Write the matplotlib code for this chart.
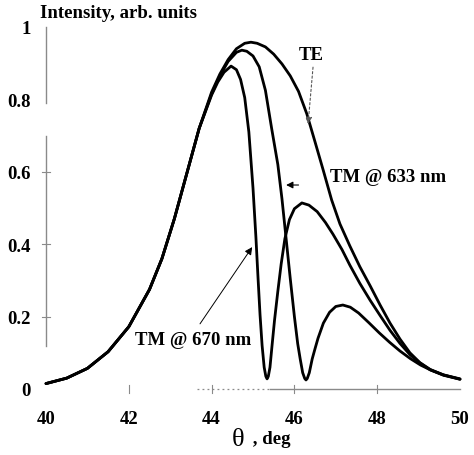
import matplotlib
matplotlib.use("Agg")
import matplotlib.pyplot as plt

# ---- data ----
te_x = [40.0, 40.5, 41.0, 41.5, 42.0, 42.5, 42.8, 43.1, 43.4, 43.7, 44.0, 44.2, 44.4, 44.6,
        44.8, 44.95, 45.1, 45.3, 45.5, 45.7, 45.9, 46.1, 46.3, 46.5, 46.7, 46.9, 47.1,
        47.34, 47.58, 47.83, 48.07, 48.31, 48.55, 48.79, 49.03, 49.28, 49.6, 50.0]
te_y = [0.015, 0.030, 0.057, 0.103, 0.172, 0.275, 0.36, 0.47, 0.595, 0.72, 0.82, 0.87, 0.91, 0.94,
        0.955, 0.958, 0.955, 0.945, 0.925, 0.898, 0.865, 0.822, 0.76, 0.682, 0.603, 0.522, 0.456,
        0.395, 0.338, 0.285, 0.232, 0.182, 0.138, 0.100, 0.073, 0.054, 0.039, 0.028]

tm633_x = [40.0, 40.5, 41.0, 41.5, 42.0, 42.5, 42.8, 43.1, 43.4, 43.7, 44.0, 44.2, 44.4, 44.6,
           44.73, 44.85, 45.0, 45.15, 45.3, 45.45, 45.6, 45.7, 45.8, 45.9, 46.0, 46.08, 46.14,
           46.2, 46.25, 46.28, 46.31, 46.36, 46.43, 46.5, 46.57, 46.7, 46.85, 47.0, 47.17,
           47.35, 47.55, 47.8, 48.05, 48.3, 48.55, 48.8, 49.05, 49.3, 49.6, 50.0]
tm633_y = [0.015, 0.030, 0.057, 0.103, 0.172, 0.275, 0.36, 0.47, 0.595, 0.72, 0.815, 0.865, 0.905, 0.93,
           0.936, 0.933, 0.92, 0.89, 0.825, 0.72, 0.62, 0.525, 0.415, 0.305, 0.20, 0.125, 0.083,
           0.045, 0.029, 0.025, 0.029, 0.045, 0.083, 0.112, 0.14, 0.182, 0.212, 0.228, 0.232,
           0.226, 0.21, 0.183, 0.155, 0.129, 0.105, 0.084, 0.066, 0.052, 0.039, 0.027]

tm670_x = [40.0, 40.5, 41.0, 41.5, 42.0, 42.5, 42.8, 43.1, 43.4, 43.7, 44.0, 44.15, 44.3, 44.47,
           44.6, 44.7, 44.8, 44.9, 45.0, 45.07, 45.12, 45.17, 45.22, 45.27, 45.31, 45.34, 45.37,
           45.41, 45.46, 45.52, 45.6, 45.68, 45.77, 45.88, 46.0, 46.18, 46.35, 46.55, 46.75,
           46.93, 47.15, 47.34, 47.58, 47.83, 48.07, 48.31, 48.55, 48.79, 49.03, 49.28, 49.6, 50.0]
tm670_y = [0.015, 0.030, 0.057, 0.103, 0.172, 0.275, 0.36, 0.47, 0.595, 0.72, 0.812, 0.848, 0.875, 0.892,
           0.882, 0.855, 0.805, 0.71, 0.555, 0.42, 0.31, 0.205, 0.12, 0.06, 0.035, 0.028, 0.035,
           0.06, 0.12, 0.19, 0.27, 0.345, 0.415, 0.468, 0.498, 0.514, 0.508, 0.49, 0.46,
           0.428, 0.385, 0.342, 0.292, 0.245, 0.203, 0.162, 0.126, 0.095, 0.072, 0.053, 0.038, 0.027]

x_ticks = [40, 42, 44, 46, 48, 50]
x_tick_labels = ["40", "42", "44", "46", "48", "50"]
y_ticks = [0, 0.2, 0.4, 0.6, 0.8, 1.0]
y_tick_labels = ["0", "0.2", "0.4", "0.6", "0.8", "1"]

SERIF = ["Liberation Serif", "DejaVu Serif"]
FS = 13.5

fig = plt.figure(figsize=(4.74, 4.56), dpi=100)
ax = fig.add_axes([46 / 474, 66 / 456, 414 / 474, 362 / 456])
ax.set_xlim(40, 50)
ax.set_ylim(0, 1)

lw = 2.0
for xs, ys in [(te_x, te_y), (tm633_x, tm633_y), (tm670_x, tm670_y)]:
    ax.plot(xs, ys, color="black", lw=lw, solid_joinstyle="round",
            solid_capstyle="round", clip_on=False)

for s in ax.spines.values():
    s.set_visible(False)

gray = "#8a8a8a"
# left axis line (broken as in reference)
ax.plot([40, 40], [0.79, 1.0], color=gray, lw=1.0, clip_on=False)
ax.plot([40, 40], [0.12, 0.70], color=gray, lw=1.0, clip_on=False)
for yt in [0.2, 0.4, 0.6]:
    ax.plot([39.9, 40.1], [yt, yt], color=gray, lw=0.8, clip_on=False)
# bottom axis line
ax.plot([43.65, 45.4], [0, 0], color=gray, lw=0.9, ls=(0, (1.5, 2.5)), clip_on=False)
ax.plot([45.4, 50], [0, 0], color=gray, lw=1.0, clip_on=False)
for xt in [42, 44, 46, 48]:
    ax.plot([xt, xt], [-0.012, 0.012], color=gray, lw=0.8, clip_on=False)

ax.set_xticks(x_ticks)
ax.set_xticklabels(x_tick_labels, fontfamily=SERIF, fontweight="bold", fontsize=FS)
ax.set_yticks(y_ticks)
ax.set_yticklabels(y_tick_labels, fontfamily=SERIF, fontweight="bold", fontsize=FS)
ax.tick_params(axis="both", length=0)
ax.tick_params(axis="x", pad=15)
ax.tick_params(axis="y", pad=11)

# axis titles
fig.text(40 / 474, 1 - 14 / 456, "Intensity, arb. units", fontfamily=SERIF,
         fontweight="bold", fontsize=FS, ha="left", va="center")
fig.text(244 / 474, 1 - 440 / 456, "θ", fontfamily=SERIF, fontsize=19,
         ha="right", va="center")
fig.text(248 / 474, 1 - 440 / 456, " , deg", fontfamily=SERIF, fontweight="bold",
         fontsize=FS, ha="left", va="center")

# annotations
ax.text(46.40, 0.925, "TE", fontfamily=SERIF, fontweight="bold", fontsize=FS,
        ha="center", va="center")
ax.annotate("", xy=(46.33, 0.732), xytext=(46.45, 0.889),
            arrowprops=dict(arrowstyle="-|>", color="#555555", lw=0.8, ls=(0, (2, 2)),
                            mutation_scale=10, shrinkA=0, shrinkB=0))
ax.text(46.86, 0.588, "TM @ 633 nm", fontfamily=SERIF, fontweight="bold", fontsize=FS,
        ha="left", va="center")
ax.annotate("", xy=(45.80, 0.5635), xytext=(46.10, 0.5635),
            arrowprops=dict(arrowstyle="-|>", color="black", lw=0.8,
                            mutation_scale=10, shrinkA=0, shrinkB=0))
ax.text(43.56, 0.138, "TM @ 670 nm", fontfamily=SERIF, fontweight="bold", fontsize=FS,
        ha="center", va="center")
ax.annotate("", xy=(44.98, 0.392), xytext=(43.72, 0.18),
            arrowprops=dict(arrowstyle="-|>", color="black", lw=0.7,
                            mutation_scale=11, shrinkA=0, shrinkB=0))

fig.savefig("out.png", dpi=100)
